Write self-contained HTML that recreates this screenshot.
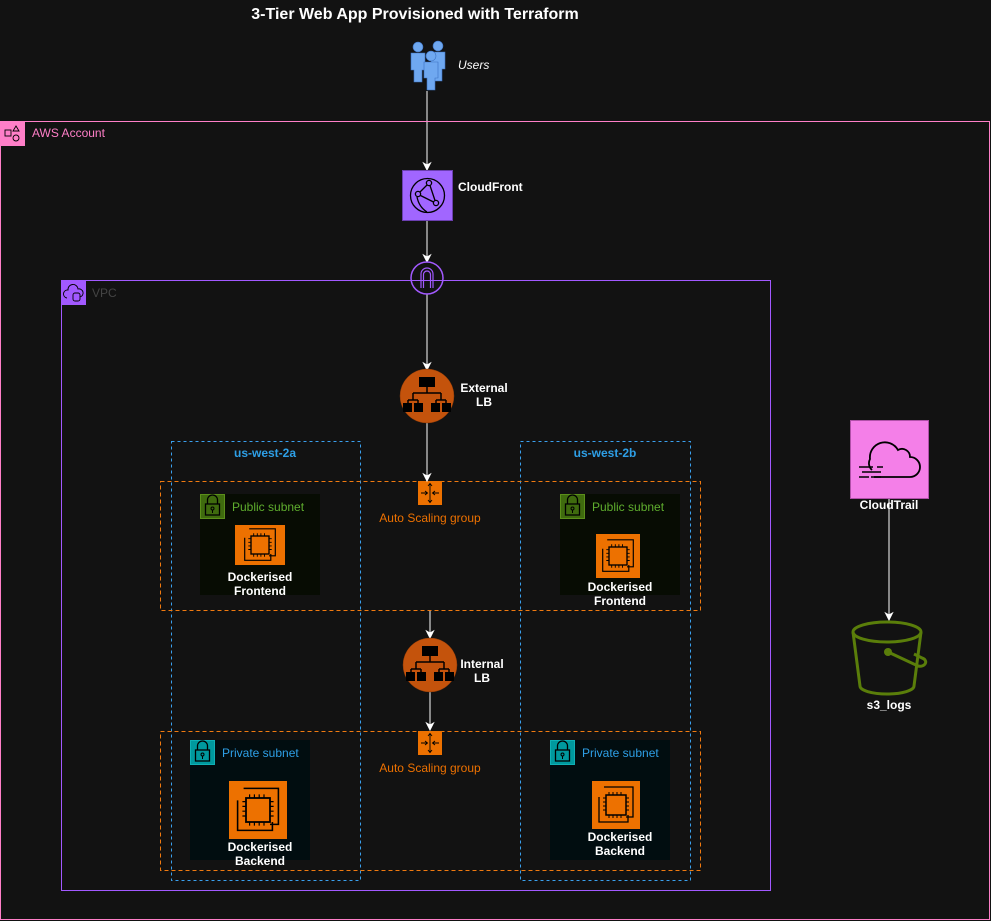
<!DOCTYPE html>
<html><head><meta charset="utf-8"><style>
html,body{margin:0;padding:0;background:#121212;}
body{position:relative;width:991px;height:921px;overflow:hidden;}
svg{display:block;font-family:"Liberation Sans",sans-serif;position:absolute;left:0;top:0;}
.b{position:absolute;box-sizing:border-box;pointer-events:none;}
</style></head><body>
<svg width="991" height="921" viewBox="0 0 991 921" xmlns="http://www.w3.org/2000/svg">
<defs>
<g id="lbIcon">
  <rect x="-8" y="-19" width="16" height="10" fill="#000"/>
  <path d="M0 -9 V-3 M-14 -3 H14 M-14 -3 V4 M14 -3 V4 M-19 4 H-9 M9 4 H19 M-19 4 V8 M-9 4 V8 M9 4 V8 M19 4 V8" stroke="#000" stroke-width="1.5" fill="none"/>
  <rect x="-24" y="7" width="9" height="9" fill="#000"/>
  <rect x="-13" y="7" width="9" height="9" fill="#000"/>
  <rect x="4" y="7" width="9" height="9" fill="#000"/>
  <rect x="15" y="7" width="9" height="9" fill="#000"/>
</g>
<g id="ec2">
  <path d="M-12 -18 H17 V12 H10 M-17 -8 V17 H12 V10" stroke="#000" stroke-width="1.3" fill="none"/>
  <rect x="-10" y="-10" width="20" height="20" fill="#ED7100" stroke="#000" stroke-width="1.5"/>
  <path d="M-7 -10V-13 M-3 -10V-13 M1 -10V-13 M5 -10V-13 M-7 10V13 M-3 10V13 M1 10V13 M5 10V13 M-10 -7H-13 M-10 -3H-13 M-10 1H-13 M-10 5H-13 M10 -7H13 M10 -3H13 M10 1H13 M10 5H13" stroke="#000" stroke-width="1"/>
</g>
<g id="lock">
  <path d="M-5 -1 V-5 A5 5 0 0 1 5 -5 V-1" fill="none" stroke="#000" stroke-width="1.3"/>
  <rect x="-7" y="-1" width="14" height="11" fill="none" stroke="#000" stroke-width="1.3"/>
  <circle cx="0" cy="3.5" r="1.5" fill="none" stroke="#000"/>
  <path d="M0 5 V8" stroke="#000"/>
</g>
<g id="asg">
  <path d="M0 -9 V9 M-9 0 H-3 M3 0 H9" stroke="#000" stroke-width="0.9"/>
  <path d="M-2 -7 L0 -9.5 L2 -7 M-2 7 L0 9.5 L2 7 M-5 -2 L-2.5 0 L-5 2 M5 -2 L2.5 0 L5 2" fill="none" stroke="#000" stroke-width="0.9"/>
</g>
</defs>
<rect width="991" height="921" fill="#121212"/>
<text x="415" y="19" text-anchor="middle" fill="#fff" font-size="16" font-weight="bold">3-Tier Web App Provisioned with Terraform</text>

<rect x="0" y="121" width="25" height="25" fill="#FF7FC8"/>
<rect x="5" y="130" width="6" height="6" fill="none" stroke="#000" stroke-width="0.9"/>
<path d="M16 126 L19 131 L13 131 Z" fill="none" stroke="#000" stroke-width="0.9"/>
<circle cx="16" cy="138" r="3" fill="none" stroke="#000" stroke-width="0.9"/>
<text x="32" y="137" fill="#FF7FC8" font-size="12">AWS Account</text>

<rect x="61" y="280" width="25" height="25" fill="#A259FF"/>
<path d="M67 298 A4 4 0 0 1 68 290 A5 5 0 0 1 78 289 A4 4 0 0 1 80 297" fill="none" stroke="#000" stroke-width="0.9"/>
<rect x="73" y="293" width="7" height="8" rx="2" fill="none" stroke="#000" stroke-width="0.9"/>
<text x="92" y="297" fill="#444" font-size="12">VPC</text>

<rect x="171.5" y="441.5" width="189" height="439" fill="none" stroke="#3AA0EE" stroke-dasharray="3,3"/>
<rect x="520.5" y="441.5" width="170" height="439" fill="none" stroke="#3AA0EE" stroke-dasharray="3,3"/>
<text x="265" y="457" text-anchor="middle" fill="#2E9FE6" font-size="12" font-weight="bold">us-west-2a</text>
<text x="605" y="457" text-anchor="middle" fill="#2E9FE6" font-size="12" font-weight="bold">us-west-2b</text>

<rect x="160.5" y="481.5" width="540" height="129" fill="none" stroke="#F07A10" stroke-dasharray="4,3"/>
<rect x="160.5" y="731.5" width="540" height="139" fill="none" stroke="#F07A10" stroke-dasharray="4,3"/>
<rect x="418" y="481" width="24" height="24" fill="#ED7100"/>
<use href="#asg" x="430" y="493"/>
<text x="430" y="522" text-anchor="middle" fill="#ED7100" font-size="12">Auto Scaling group</text>
<rect x="418" y="731" width="24" height="24" fill="#ED7100"/>
<use href="#asg" x="430" y="743"/>
<text x="430" y="772" text-anchor="middle" fill="#ED7100" font-size="12">Auto Scaling group</text>

<rect x="200" y="494" width="120" height="101" fill="#070c03"/>
<rect x="200.5" y="494.5" width="24" height="24" fill="#3F6B0E" stroke="#5b8f1a"/>
<use href="#lock" x="212.5" y="505"/>
<text x="232" y="511" fill="#5FAE2E" font-size="12">Public subnet</text>
<rect x="235" y="525" width="50" height="40" fill="#ED7100"/>
<g transform="translate(260 545) scale(0.9)"><use href="#ec2"/></g>
<text x="260" y="581" text-anchor="middle" fill="#fff" font-size="12" font-weight="bold">Dockerised</text>
<text x="260" y="595" text-anchor="middle" fill="#fff" font-size="12" font-weight="bold">Frontend</text>

<rect x="560" y="494" width="120" height="101" fill="#070c03"/>
<rect x="560.5" y="494.5" width="24" height="24" fill="#3F6B0E" stroke="#5b8f1a"/>
<use href="#lock" x="572.5" y="505"/>
<text x="592" y="511" fill="#5FAE2E" font-size="12">Public subnet</text>
<rect x="596" y="534" width="44" height="44" fill="#ED7100"/>
<g transform="translate(618 556) scale(0.9)"><use href="#ec2"/></g>
<text x="620" y="591" text-anchor="middle" fill="#fff" font-size="12" font-weight="bold">Dockerised</text>
<text x="620" y="605" text-anchor="middle" fill="#fff" font-size="12" font-weight="bold">Frontend</text>

<rect x="190" y="740" width="120" height="120" fill="#010d10"/>
<rect x="190.5" y="740.5" width="24" height="24" fill="#00999E" stroke="#10b0b5"/>
<use href="#lock" x="202.5" y="751"/>
<text x="222" y="757" fill="#2E9FE6" font-size="12">Private subnet</text>
<rect x="229" y="781" width="58" height="58" fill="#ED7100"/>
<g transform="translate(258 810) scale(1.2)"><use href="#ec2"/></g>
<text x="260" y="851" text-anchor="middle" fill="#fff" font-size="12" font-weight="bold">Dockerised</text>
<text x="260" y="865" text-anchor="middle" fill="#fff" font-size="12" font-weight="bold">Backend</text>

<rect x="550" y="740" width="120" height="120" fill="#010d10"/>
<rect x="550.5" y="740.5" width="24" height="24" fill="#00999E" stroke="#10b0b5"/>
<use href="#lock" x="562.5" y="751"/>
<text x="582" y="757" fill="#2E9FE6" font-size="12">Private subnet</text>
<rect x="592" y="781" width="48" height="48" fill="#ED7100"/>
<g transform="translate(616 805)"><use href="#ec2"/></g>
<text x="620" y="841" text-anchor="middle" fill="#fff" font-size="12" font-weight="bold">Dockerised</text>
<text x="620" y="855" text-anchor="middle" fill="#fff" font-size="12" font-weight="bold">Backend</text>

<g fill="#6FA8F0" stroke="#3a70c0" stroke-width="0.6">
  <circle cx="418" cy="47" r="5"/><path d="M411 53 H425 V70 H422 V82 H414 V70 H411 Z"/>
  <circle cx="438" cy="46" r="5"/><path d="M431 52 H445 V69 H442 V81 H434 V69 H431 Z"/>
  <circle cx="431" cy="56" r="5"/><path d="M424 62 H438 V78 H435 V90 H427 V78 H424 Z"/>
</g>
<text x="458" y="69" fill="#fff" font-size="12" font-style="italic">Users</text>

<g stroke="#fff" stroke-width="1" fill="#fff">
  <line x1="427" y1="91" x2="427" y2="165"/><path d="M423.5 163 L427 170 L430.5 163 L427 165 Z"/>
  <line x1="427" y1="220" x2="427" y2="257"/><path d="M423.5 255 L427 262 L430.5 255 L427 257 Z"/>
  <line x1="427" y1="294" x2="427" y2="365"/><path d="M423.5 363 L427 370 L430.5 363 L427 365 Z"/>
  <line x1="427" y1="423" x2="427" y2="476"/><path d="M423.5 474 L427 481 L430.5 474 L427 476 Z"/>
  <line x1="430" y1="611" x2="430" y2="633"/><path d="M426.5 631 L430 638 L433.5 631 L430 633 Z"/>
  <line x1="430" y1="692" x2="430" y2="725"/><path d="M426.5 723 L430 730 L433.5 723 L430 725 Z"/>
  <line x1="889" y1="498" x2="889" y2="615"/><path d="M885.5 613 L889 620 L892.5 613 L889 615 Z"/>
</g>

<rect x="402.5" y="170.5" width="50" height="50" fill="#A166FF" stroke="#6b3fb0"/>
<g fill="none" stroke="#000" stroke-width="1.3">
  <circle cx="427.5" cy="195.5" r="17"/>
  <circle cx="429" cy="183" r="2.6"/><circle cx="418" cy="194" r="2.6"/><circle cx="436" cy="203" r="2.6"/>
  <path d="M420 192 L427 185 M420.5 195.5 L433.5 202 M430 185.5 L435 200.5 M417 197 Q419 207 427 212"/>
</g>
<text x="458" y="191" fill="#fff" font-size="12" font-weight="bold">CloudFront</text>

<circle cx="427" cy="278" r="16" fill="#121212" stroke="#A259FF" stroke-width="1.5"/>
<path d="M421 288 V274 A6 6 0 0 1 433 274 V288 M423.5 288 V274.5 A3.5 3.5 0 0 1 430.5 274.5 V288" fill="none" stroke="#A259FF" stroke-width="1.2"/>

<circle cx="427" cy="396" r="27" fill="#C4530C" stroke="#8a3a08" stroke-width="0.5"/>
<use href="#lbIcon" x="427" y="396"/>
<text x="484" y="392" text-anchor="middle" fill="#fff" font-size="12" font-weight="bold">External</text>
<text x="484" y="406" text-anchor="middle" fill="#fff" font-size="12" font-weight="bold">LB</text>

<circle cx="430" cy="665" r="27" fill="#C4530C" stroke="#8a3a08" stroke-width="0.5"/>
<use href="#lbIcon" x="430" y="665"/>
<text x="482" y="668" text-anchor="middle" fill="#fff" font-size="12" font-weight="bold">Internal</text>
<text x="482" y="682" text-anchor="middle" fill="#fff" font-size="12" font-weight="bold">LB</text>

<rect x="850.5" y="420.5" width="78" height="78" fill="#F47FE8" stroke="#b050a8"/>
<path d="M874 477 H910 A10 10 0 0 0 910 457 A8 8 0 0 0 898 450 A15 15 0 0 0 870 459 A9 9 0 0 0 872 470" fill="none" stroke="#000" stroke-width="1.8"/>
<path d="M859 467 H873 M877 467 H883 M862 472 H881 M859 477 H869 M871 477 H881" stroke="#000" stroke-width="1.4"/>
<text x="889" y="509" text-anchor="middle" fill="#fff" font-size="12" font-weight="bold">CloudTrail</text>

<g fill="none" stroke="#5A7E0A" stroke-width="3">
  <ellipse cx="887" cy="632" rx="34" ry="10"/>
  <path d="M853 632 L860 686 A27 8 0 0 0 914 686 L921 632"/>
  <path d="M888 652 L918 666 A4 3 0 0 0 922 658 L914 654"/>
</g>
<circle cx="888" cy="652" r="4" fill="#5A7E0A"/>
<text x="889" y="709" text-anchor="middle" fill="#fff" font-size="12" font-weight="bold">s3_logs</text>
</svg>
<div class="b" style="left:0;top:121px;width:990px;height:799px;border:1px solid #FF7FC8;"></div>
<div class="b" style="left:61px;top:280px;width:710px;height:611px;border:1px solid #A259FF;"></div>
</body></html>
